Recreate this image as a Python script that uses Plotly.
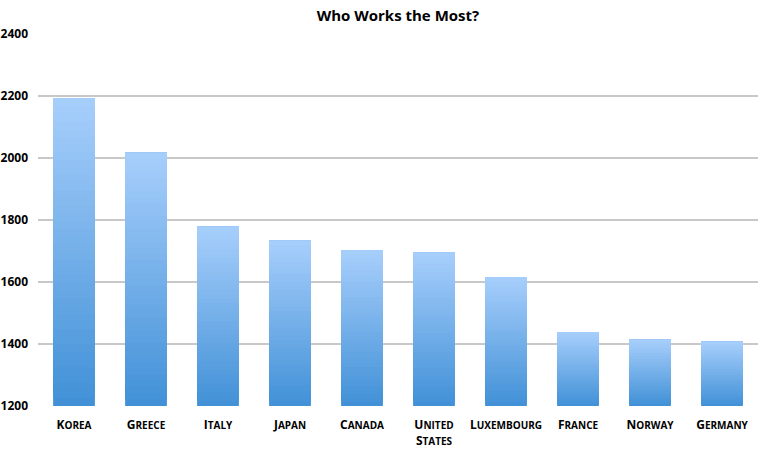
import plotly.graph_objects as go

countries = ["Korea", "Greece", "Italy", "Japan", "Canada", "United States",
             "Luxembourg", "France", "Norway", "Germany"]
tick_labels = [
    "K<span style='font-size:10px'>OREA</span>",
    "G<span style='font-size:10px'>REECE</span>",
    "I<span style='font-size:10px'>TALY</span>",
    "J<span style='font-size:10px'>APAN</span>",
    "C<span style='font-size:10px'>ANADA</span>",
    "U<span style='font-size:10px'>NITED</span><br>S<span style='font-size:10px'>TATES</span>",
    "L<span style='font-size:10px'>UXEMBOURG</span>",
    "F<span style='font-size:10px'>RANCE</span>",
    "N<span style='font-size:10px'>ORWAY</span>",
    "G<span style='font-size:10px'>ERMANY</span>",
]
hours = [2193, 2017, 1778, 1733, 1702, 1695, 1616, 1439, 1414, 1407]
y_ticks = [1200, 1400, 1600, 1800, 2000, 2200, 2400]

base_val = 1200
top_rgb = (166, 206, 251)
bot_rgb = (66, 145, 215)
N = 40

fig = go.Figure()
for k in range(N):
    t = k / (N - 1)
    c = tuple(round(bot_rgb[i] + (top_rgb[i] - bot_rgb[i]) * t) for i in range(3))
    bases = [base_val + (v - base_val) * k / N for v in hours]
    heights = [v - b for v, b in zip(hours, bases)]
    fig.add_trace(go.Bar(
        x=countries, y=heights, base=bases,
        marker=dict(color=f"rgb{c}", line=dict(width=0)),
        showlegend=False, hoverinfo="skip" if k else None,
    ))

fig.update_layout(
    barmode="overlay",
    bargap=0.42,
    width=758, height=449,
    margin=dict(l=38, r=0, t=34, b=43),
    paper_bgcolor="white", plot_bgcolor="white",
    title=dict(text="<b>Who Works the Most?</b>", x=0.525, xanchor="center",
               y=0.966, yanchor="middle",
               font=dict(family="Open Sans", size=15, color="black")),
    font=dict(family="Open Sans", color="black"),
)
fig.update_xaxes(
    tickmode="array", tickvals=countries, ticktext=["<b>" + t + "</b>" for t in tick_labels],
    tickfont=dict(size=12, family="Open Sans", color="black"),
    showgrid=False, showline=False, ticks="", tickangle=0, ticklabelstandoff=10,
)
fig.update_yaxes(
    range=[1200, 2400], tickvals=y_ticks,
    ticktext=[f"<b>{v}</b>" for v in y_ticks],
    tickfont=dict(size=12, family="Open Sans", color="black"),
    showgrid=True, gridcolor="#c8c8c8", gridwidth=1.5,
    zeroline=False, showline=False, ticks="", ticklabelstandoff=9,
)
fig.write_html("out.html", config={"displayModeBar": False},
               post_script="document.body.style.margin='0';")
